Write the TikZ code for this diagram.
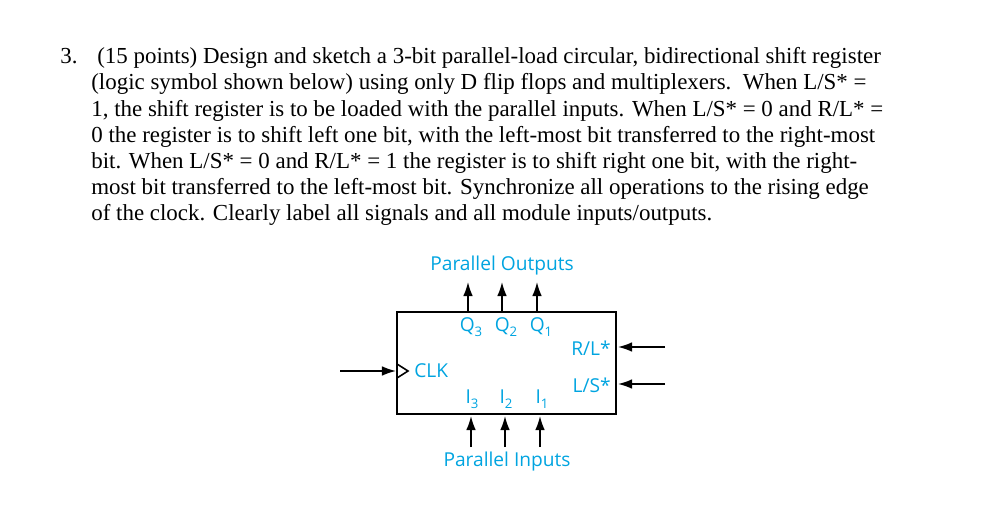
\documentclass[tikz,border=0pt]{standalone}
\usepackage{fontspec}
\setmainfont{Liberation Serif}
\newfontfamily\bluefont{Open Sans}
\usetikzlibrary{arrows.meta}
\definecolor{lblue}{RGB}{0,164,224}
\begin{document}
\begin{tikzpicture}[x=0.02cm,y=-0.02cm,
  txt/.style={anchor=base west,inner sep=0,font=\fontsize{13.05}{14}\selectfont},
  lbl/.style={text=lblue,inner sep=0,font=\bluefont\fontsize{10.9}{12}\selectfont},
  sub/.style={font=\bluefont\fontsize{7.5}{8}\selectfont},
  arr/.style={-{Latex[length=8pt,width=5.5pt]},line width=0.9pt}]
\useasboundingbox (0,0) rectangle (1000,510);
\node[txt] (n) at (60,64) {3.};
\node[txt] (l1) at (97,64) {(15 points) Design and sketch a 3-bit parallel-load circular, bidirectional shift register};
\node[txt] (l2) at (91,90) {(logic symbol shown below) using only D flip flops and multiplexers.\ \ When L/S* =};
\node[txt] (l3) at (91,116) {1, the shift register is to be loaded with the parallel inputs. When L/S* = 0 and R/L* =};
\node[txt] (l4) at (91,142) {0 the register is to shift left one bit, with the left-most bit transferred to the right-most};
\node[txt] (l5) at (91,168) {bit. When L/S* = 0 and R/L* = 1 the register is to shift right one bit, with the right-};
\node[txt] (l6) at (91,194) {most bit transferred to the left-most bit. Synchronize all operations to the rising edge};
\node[txt] (l7) at (91,220) {of the clock. Clearly label all signals and all module inputs/outputs.};
% box
\draw[line width=1.1pt] (397,312) rectangle (616,414);
\draw[line width=0.9pt] (397,364) -- (408,371) -- (397,378);
\foreach \x/\n in {468/a,502/b,537/c}{
  \coordinate (t\n) at (\x,312); \coordinate (te\n) at (\x,282);
  \draw[arr] (t\n) -- (te\n);}
\foreach \x/\n in {471/a,505/b,540/c}{
  \coordinate (b\n) at (\x,447); \coordinate (be\n) at (\x,416);
  \draw[arr] (b\n) -- (be\n);}
\coordinate (rs) at (665,347); \coordinate (re) at (618,347);
\coordinate (ss) at (665,384); \coordinate (se) at (618,384);
\coordinate (cs) at (340,371); \coordinate (ce) at (396,371);
\draw[arr] (rs) -- (re);
\draw[arr] (ss) -- (se);
\draw[arr] (cs) -- (ce);
\node[lbl] (po) at (502,266) {Parallel Outputs};
\node[lbl] (pi) at (507,462) {Parallel Inputs};
\node[lbl] (q3) at (471,327) {Q\raisebox{-3pt}{\tikz[baseline]\node[sub,inner sep=0,anchor=base]{3};}};
\node[lbl] (q2) at (506,327) {Q\raisebox{-3pt}{\tikz[baseline]\node[sub,inner sep=0,anchor=base]{2};}};
\node[lbl] (q1) at (541,327) {Q\raisebox{-3pt}{\tikz[baseline]\node[sub,inner sep=0,anchor=base]{1};}};
\node[lbl] (i3) at (472,399) {I\raisebox{-3pt}{\tikz[baseline]\node[sub,inner sep=0,anchor=base]{3};}};
\node[lbl] (i2) at (506,399) {I\raisebox{-3pt}{\tikz[baseline]\node[sub,inner sep=0,anchor=base]{2};}};
\node[lbl] (i1) at (542,399) {I\raisebox{-3pt}{\tikz[baseline]\node[sub,inner sep=0,anchor=base]{1};}};
\node[lbl,anchor=west] (clk) at (414,371) {CLK};
\node[lbl,anchor=east] (rl) at (611,348) {R/L*};
\node[lbl,anchor=east] (ls) at (611,385) {L/S*};
\end{tikzpicture}
\end{document}
